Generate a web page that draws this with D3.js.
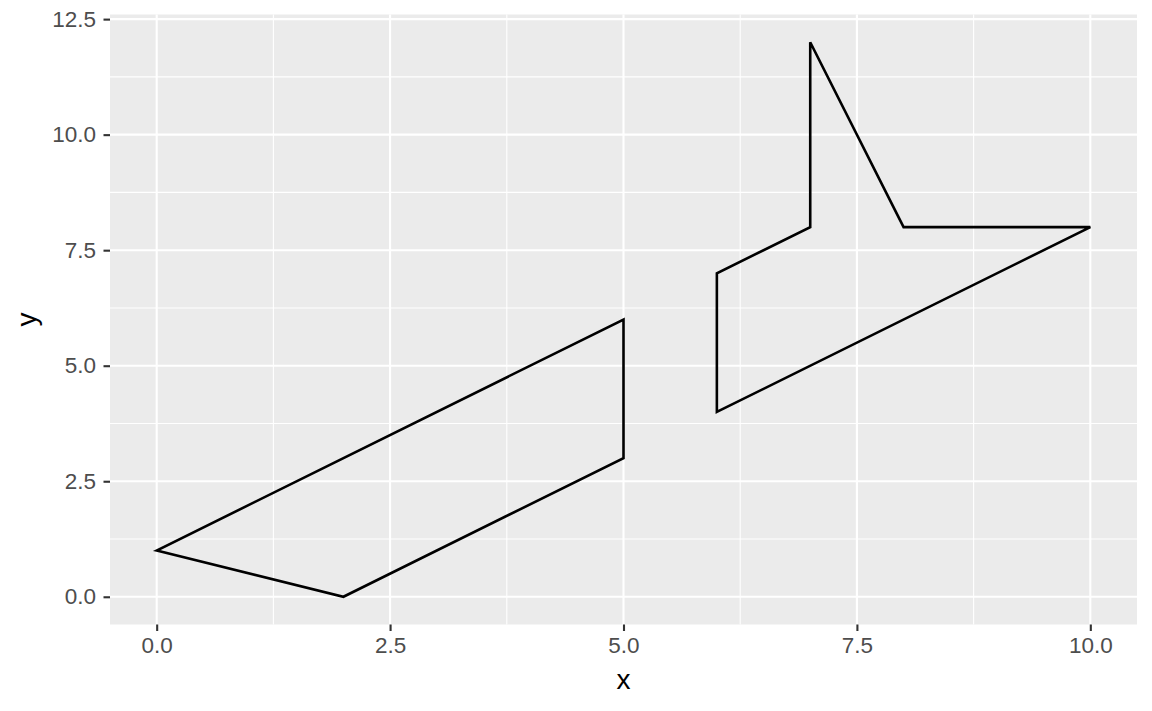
<!DOCTYPE html>
<html>
<head>
<meta charset="utf-8">
<title>Polygons</title>
<style>
    body { margin: 0; background: #fff; }
    svg { display: block; font-family: "Liberation Sans", Arial, sans-serif; }
    .grid-major { stroke: #fff; stroke-width: 2.1; }
    .grid-minor { stroke: #fff; stroke-width: 1.1; }
    .tick-label { fill: #4d4d4d; font-size: 22.5px; }
    .axis-title { fill: #000; font-size: 28px; }
    .shape { fill: none; stroke: #000; stroke-width: 2.6; stroke-linejoin: miter; }
</style>
</head>
<body>
<svg id="chart" width="1152" height="711"></svg>
<script src="https://d3js.org/d3.v7.min.js"></script>
<script>
    // two shapes, vertices in order
    const shapeA = [[0, 1], [2, 0], [5, 3], [5, 6]];
    const shapeB = [[6, 4], [10, 8], [8, 8], [7, 12], [7, 8], [6, 7]];
    const xTicks = [0, 2.5, 5, 7.5, 10];
    const yTicks = [0, 2.5, 5, 7.5, 10, 12.5];
    const xMinor = [1.25, 3.75, 6.25, 8.75];
    const yMinor = [1.25, 3.75, 6.25, 8.75, 11.25];

    const panel = { left: 110, right: 1137, top: 14.5, bottom: 624.5 };
    const svg = d3.select('#chart');

    const x = d3.scaleLinear().domain([-0.5, 10.5]).range([panel.left, panel.right]);
    const y = d3.scaleLinear().domain([-0.6, 12.6]).range([panel.bottom, panel.top]);

    svg.append('rect')
        .attr('x', panel.left).attr('y', panel.top)
        .attr('width', panel.right - panel.left)
        .attr('height', panel.bottom - panel.top)
        .attr('fill', '#ebebeb');

    const grid = svg.append('g');
    grid.selectAll('.vminor').data(xMinor).join('line')
        .attr('class', 'grid-minor')
        .attr('x1', d => x(d)).attr('x2', d => x(d))
        .attr('y1', panel.top).attr('y2', panel.bottom);
    grid.selectAll('.hminor').data(yMinor).join('line')
        .attr('class', 'grid-minor')
        .attr('y1', d => y(d)).attr('y2', d => y(d))
        .attr('x1', panel.left).attr('x2', panel.right);
    grid.selectAll('.vmajor').data(xTicks).join('line')
        .attr('class', 'grid-major')
        .attr('x1', d => x(d)).attr('x2', d => x(d))
        .attr('y1', panel.top).attr('y2', panel.bottom);
    grid.selectAll('.hmajor').data(yTicks).join('line')
        .attr('class', 'grid-major')
        .attr('y1', d => y(d)).attr('y2', d => y(d))
        .attr('x1', panel.left).attr('x2', panel.right);

    // axes: ggplot style ticks, no domain line
    const fmt = d3.format('.1f');
    const xAxis = svg.append('g')
        .attr('transform', `translate(0,${panel.bottom})`)
        .call(d3.axisBottom(x).tickValues(xTicks).tickFormat(fmt).tickSize(6.5).tickPadding(6));
    const yAxis = svg.append('g')
        .attr('transform', `translate(${panel.left},0)`)
        .call(d3.axisLeft(y).tickValues(yTicks).tickFormat(fmt).tickSize(6.5).tickPadding(7.5));
    [xAxis, yAxis].forEach(a => {
        a.select('.domain').remove();
        a.selectAll('line').attr('stroke', '#333').attr('stroke-width', 2.1);
        a.selectAll('text').attr('class', 'tick-label');
        a.attr('font-family', null).attr('font-size', null);
    });

    const line = d3.line().x(d => x(d[0])).y(d => y(d[1]));
    svg.selectAll('.shape').data([shapeA, shapeB]).join('path')
        .attr('class', 'shape')
        .attr('d', d => line(d) + 'Z');

    svg.append('text').attr('class', 'axis-title')
        .attr('x', (panel.left + panel.right) / 2).attr('y', 689)
        .attr('text-anchor', 'middle').text('x');
    svg.append('text').attr('class', 'axis-title')
        .attr('transform', `translate(36,${(panel.top + panel.bottom) / 2}) rotate(-90)`)
        .attr('text-anchor', 'middle').text('y');
</script>
</body>
</html>
